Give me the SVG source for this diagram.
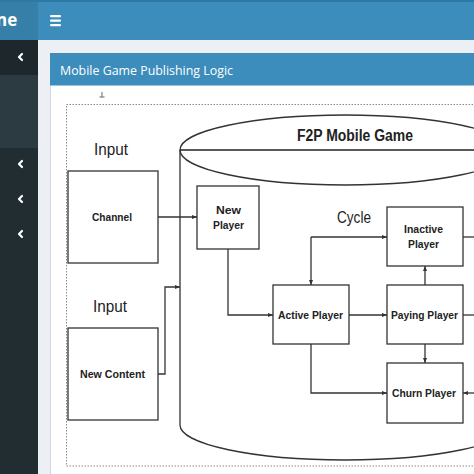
<svg xmlns="http://www.w3.org/2000/svg" width="474" height="474" viewBox="0 0 474 474">
<defs>
<style>
.ui{font-family:"Open Sans","Liberation Sans",sans-serif;fill:#fff}
.box{fill:#fff;stroke:#333;stroke-width:1.3}
.lbl{font-family:"Liberation Sans",Arial,sans-serif;font-weight:bold;font-size:10.5px;fill:#222;text-anchor:middle}
.big{font-family:"Liberation Sans",Arial,sans-serif;font-size:16px;fill:#222;text-anchor:middle}
.con{fill:none;stroke:#333;stroke-width:1.3}
.chev{fill:none;stroke:#fff;stroke-width:2.2;stroke-linecap:round;stroke-linejoin:round}
</style>
<marker id="ah" viewBox="0 0 10 10" refX="10" refY="5" markerWidth="5" markerHeight="5" orient="auto" markerUnits="userSpaceOnUse">
<path d="M0,1 L10,5 L0,9 z" fill="#333"/>
</marker>
</defs>
<!-- page background -->
<rect x="0" y="0" width="474" height="474" fill="#ecf0f5"/>
<!-- header -->
<rect x="0" y="0" width="38" height="40" fill="#367fa9"/>
<rect x="38" y="0" width="436" height="40" fill="#3c8dbc"/>
<rect x="0" y="0" width="474" height="2" fill="#2f78a3"/>
<text x="-4" y="26" class="ui" font-size="17" font-weight="bold">ne</text>
<g fill="#fff">
<rect x="50" y="15" width="11" height="2.2" rx="1"/>
<rect x="50" y="19.5" width="11" height="2.2" rx="1"/>
<rect x="50" y="24" width="11" height="2.2" rx="1"/>
</g>
<!-- sidebar -->
<rect x="0" y="40" width="38" height="434" fill="#222d32"/>
<rect x="0" y="40" width="38" height="35" fill="#1e282c"/>
<rect x="0" y="75" width="38" height="73" fill="#2c3b41"/>
<path class="chev" d="M22,54 L19,57 L22,60"/>
<path class="chev" d="M22,161 L19,164 L22,167"/>
<path class="chev" d="M22,196 L19,199 L22,202"/>
<path class="chev" d="M22,231 L19,234 L22,237"/>
<!-- box -->
<rect x="50.5" y="53.5" width="430" height="430" fill="#fff" stroke="#d2d6de"/>
<rect x="50.5" y="53.5" width="430" height="31.5" fill="#3c8dbc" stroke="#3c8dbc"/>
<text x="60" y="75" class="ui" font-size="13.5" textLength="173" lengthAdjust="spacingAndGlyphs">Mobile Game Publishing Logic</text>
<!-- small mark -->
<path d="M102,92 V97 M99.5,97 H104.5" stroke="#666" stroke-width="1" fill="none"/>
<!-- dotted frame -->
<rect x="66.5" y="104.5" width="420" height="361.5" fill="none" stroke="#888" stroke-width="1" stroke-dasharray="1.5,1.5"/>
<!-- cylinder -->
<g id="cylinder">
<path d="M180,150 V425 A165,35 0 0 0 510,425 V150" fill="none" stroke="#333" stroke-width="1.3"/>
<ellipse cx="345" cy="150" rx="165" ry="35" fill="none" stroke="#333" stroke-width="1.3"/>
<line x1="180" y1="150" x2="474" y2="150" stroke="#222" stroke-width="1.6"/>
<text x="355" y="141" class="big" font-weight="bold" textLength="116" lengthAdjust="spacingAndGlyphs">F2P Mobile Game</text>
</g>
<text x="111" y="155" class="big" textLength="34" lengthAdjust="spacingAndGlyphs">Input</text>
<text x="110" y="312" class="big" textLength="34" lengthAdjust="spacingAndGlyphs">Input</text>
<text x="354" y="223" class="big" textLength="34" lengthAdjust="spacingAndGlyphs">Cycle</text>
<!-- connectors -->
<g id="connectors">
<path class="con" d="M158,217 H197" marker-end="url(#ah)"/>
<path class="con" d="M158,374 H165 V287 H180" marker-end="url(#ah)"/>
<path class="con" d="M228,249 V315 H273" marker-end="url(#ah)"/>
<path class="con" d="M311,237 H387" marker-end="url(#ah)"/>
<path class="con" d="M311,237 V285" marker-end="url(#ah)"/>
<path class="con" d="M349,315 H387" marker-end="url(#ah)"/>
<path class="con" d="M311,344 V393 H387" marker-end="url(#ah)"/>
<path class="con" d="M425,285 V266" marker-end="url(#ah)"/>
<path class="con" d="M425,344 V363" marker-end="url(#ah)"/>
<path class="con" d="M463,237 H476"/>
<path class="con" d="M463,315 H476"/>
<path class="con" d="M476,393 H463" marker-end="url(#ah)"/>
</g>
<!-- nodes -->
<g id="channel">
<rect class="box" x="68" y="171" width="90" height="92"/>
<text class="lbl" x="112" y="221" textLength="40" lengthAdjust="spacingAndGlyphs">Channel</text>
</g>
<g id="new-content">
<rect class="box" x="68" y="328" width="90" height="92"/>
<text class="lbl" x="112.5" y="378" textLength="65" lengthAdjust="spacingAndGlyphs">New Content</text>
</g>
<g id="new-player">
<rect class="box" x="197" y="186" width="62" height="63"/>
<text class="lbl" x="228.5" y="214" textLength="25" lengthAdjust="spacingAndGlyphs">New</text>
<text class="lbl" x="228.5" y="229" textLength="31" lengthAdjust="spacingAndGlyphs">Player</text>
</g>
<g id="inactive-player">
<rect class="box" x="387" y="207" width="76" height="59"/>
<text class="lbl" x="423.5" y="233" textLength="39" lengthAdjust="spacingAndGlyphs">Inactive</text>
<text class="lbl" x="423.5" y="248" textLength="31" lengthAdjust="spacingAndGlyphs">Player</text>
</g>
<g id="active-player">
<rect class="box" x="273" y="285" width="76" height="59"/>
<text class="lbl" x="310.5" y="319" textLength="65" lengthAdjust="spacingAndGlyphs">Active Player</text>
</g>
<g id="paying-player">
<rect class="box" x="387" y="285" width="76" height="59"/>
<text class="lbl" x="424.5" y="319" textLength="67" lengthAdjust="spacingAndGlyphs">Paying Player</text>
</g>
<g id="churn-player">
<rect class="box" x="387" y="363" width="76" height="60"/>
<text class="lbl" x="424" y="397" textLength="64" lengthAdjust="spacingAndGlyphs">Churn Player</text>
</g>
</svg>
